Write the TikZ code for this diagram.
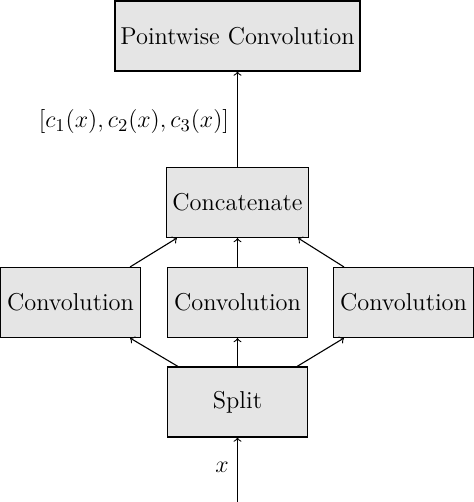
\documentclass[tikz,border=0pt]{standalone}
\begin{document}
\begin{tikzpicture}[x=0.5pt,y=-0.5pt,
  box/.style={draw, line width=0.55pt, fill=gray!20, minimum height=35pt, inner sep=0pt, font=\fontsize{12.2}{15}\selectfont},
  arr/.style={->, line width=0.55pt},
  lbl/.style={font=\fontsize{12.2}{15}\selectfont}]
\useasboundingbox (0,0) rectangle (474,502);
\node[box, minimum width=122.5pt] (pw) at (237.5,36) {Pointwise Convolution};
\node[box, minimum width=71pt] (cat) at (237.5,202.5) {Concatenate};
\node[box, minimum width=70pt] (cl) at (70.5,302.5) {Convolution};
\node[box, minimum width=70pt] (cm) at (237.5,302.5) {Convolution};
\node[box, minimum width=70pt] (cr) at (403.5,302.5) {Convolution};
\node[box, minimum width=70pt] (sp) at (237.5,402) {Split};
\coordinate (in) at (237.5,502);
\node[lbl, anchor=east] (cx) at (236,122) {$[c_1(x), c_2(x), c_3(x)]$};
\node[lbl] (xl) at (222,467) {$x$};
\draw[arr] (in) -- (sp.south);
\draw[arr] (sp.north) -- (cm.south);
\draw[arr] ([xshift=5.5pt]sp.north west) -- ([xshift=-5.5pt]cl.south east);
\draw[arr] ([xshift=-5.5pt]sp.north east) -- ([xshift=5.5pt]cr.south west);
\draw[arr] (cm.north) -- (cat.south);
\draw[arr] ([xshift=-5.5pt]cl.north east) -- ([xshift=5.5pt]cat.south west);
\draw[arr] ([xshift=5.5pt]cr.north west) -- ([xshift=-5.5pt]cat.south east);
\draw[arr] (cat.north) -- (pw.south);
\end{tikzpicture}
\end{document}
